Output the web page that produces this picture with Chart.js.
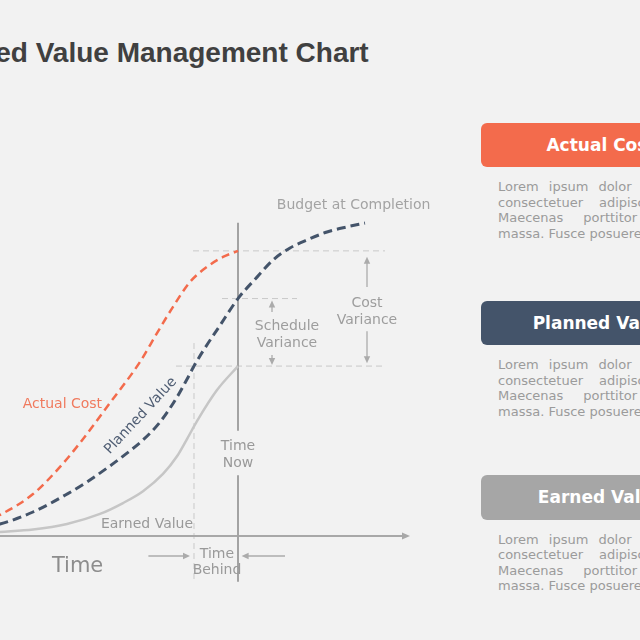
<!DOCTYPE html>
<html>
<head>
<meta charset="utf-8">
<script src="https://cdn.jsdelivr.net/npm/chart.js@4.4.1/dist/chart.umd.min.js"></script>
<style>
  html, body { margin: 0; padding: 0; width: 640px; height: 640px; overflow: hidden; background: #f2f2f2; }
  #slide { position: relative; width: 640px; height: 640px; overflow: hidden; font-family: "DejaVu Sans", Verdana, sans-serif; }
  h1 { position: absolute; left: -67px; top: 39px; margin: 0; font: bold 28px/28px "Liberation Sans", Arial, sans-serif; color: #404040; white-space: nowrap; }
  #chart-wrap { position: absolute; left: -42px; top: 180px; width: 480px; height: 420px; }
  .lbl { position: absolute; transform: translate(-50%, -50%); font-size: 14px; line-height: 16.5px; color: #999; text-align: center; white-space: nowrap; }
  .card { position: absolute; left: 481px; width: 240px; }
  .card-head { height: 44.5px; line-height: 44.5px; border-radius: 6px; color: #fff; font-weight: bold; font-size: 17px; text-align: center; white-space: nowrap; }
  .card-body { margin: 12px 16px 0 17px; font-size: 13px; line-height: 15.6px; color: #9b9b9b; text-align: justify; }
</style>
</head>
<body>
<div id="slide">
  <h1>Earned Value Management Chart</h1>

  <div id="chart-wrap">
    <canvas id="evmChart" width="480" height="420"></canvas>
  </div>

  <div class="card" style="top:122.7px">
    <div class="card-head" style="background:#f36b4c">Actual Cost</div>
    <div class="card-body">Lorem ipsum dolor sit amet, consectetuer adipiscing elit. Maecenas porttitor congue massa. Fusce posuere, magna.</div>
  </div>
  <div class="card" style="top:300.7px">
    <div class="card-head" style="background:#44546a">Planned Value</div>
    <div class="card-body">Lorem ipsum dolor sit amet, consectetuer adipiscing elit. Maecenas porttitor congue massa. Fusce posuere, magna.</div>
  </div>
  <div class="card" style="top:475px">
    <div class="card-head" style="background:#a6a6a6">Earned Value</div>
    <div class="card-body">Lorem ipsum dolor sit amet, consectetuer adipiscing elit. Maecenas porttitor congue massa. Fusce posuere, magna.</div>
  </div>
</div>

<script>
// curves (time units, value in % of budget)
const acTimes = [0, 1.05, 1.875, 2.55, 3.05, 3.8, 4.55, 4.975, 5.375, 5.8, 6.225, 6.625, 7];
const acValues = [0.9, 6.6, 13.1, 21.6, 29.1, 41.6, 54.4, 63.4, 71.6, 79.4, 84.1, 87.2, 89.1];

const pvTimes = [0, 1.05, 1.875, 2.725, 3.225, 3.8, 4.225, 4.625, 5.05, 5.475, 5.725, 5.9, 6.125, 6.55, 7, 7.475, 7.875, 8.3, 8.725, 9.225, 9.725, 10.175];
const pvValues = [1.6, 3.75, 7.5, 13.1, 16.9, 21.9, 25.9, 30.0, 35.6, 43.4, 49.0, 53.1, 57.8, 65.8, 74.2, 80.9, 86.25, 90.0, 92.5, 95.0, 96.6, 97.8];

const evTimes = [0, 1.05, 1.875, 2.725, 3.55, 4.125, 4.625, 5.125, 5.475, 5.725, 5.975, 6.475, 7];
const evValues = [0.3, 1.25, 2.0, 3.75, 6.9, 10.3, 14.0, 19.4, 24.9, 30.3, 35.9, 45.6, 53.1];

const timeNow = 7;
const timeBehind = 5.9;

const acNow = acValues[acValues.length - 1];
const evNow = evValues[evValues.length - 1];
const pvNow = pvValues[pvTimes.indexOf(timeNow)];

// text placed in chart units
const chartLabels = [
  { text: 'Budget at Completion', t: 9.89, v: 103.75, color: '#a3a3a3' },
  { text: 'Actual Cost', t: 2.61, v: 41.6, color: '#f07a5e' },
  { text: 'Planned Value', t: 4.55, v: 37.8, color: '#4f5d73', rotate: -47 },
  { text: 'Earned Value', t: 4.725, v: 4.06, color: '#999' },
  { text: 'Time<br>Now', t: timeNow, v: 25.8, color: '#999' },
  { text: 'Schedule<br>Variance', t: 8.225, v: 63.4, color: '#9d9d9d' },
  { text: 'Cost<br>Variance', t: 10.225, v: 70.6, color: '#9d9d9d' },
  { text: 'Time<br>Behind', t: 6.475, v: -7.66, color: '#999' },
  { text: 'Time', t: 2.99, v: -9.06, color: '#8d8d8d', size: 21 }
];

const toPoints = (times, values) => times.map((t, i) => ({ x: t, y: values[i] }));

const arrow = (ctx, x1, y1, x2, y2) => {
  const ang = Math.atan2(y2 - y1, x2 - x1);
  const len = 7;
  const half = 3.2;
  ctx.beginPath();
  ctx.moveTo(x1, y1);
  ctx.lineTo(x2 - Math.cos(ang) * len * 0.6, y2 - Math.sin(ang) * len * 0.6);
  ctx.stroke();
  ctx.beginPath();
  ctx.moveTo(x2, y2);
  ctx.lineTo(x2 - Math.cos(ang) * len - Math.sin(ang) * half, y2 - Math.sin(ang) * len + Math.cos(ang) * half);
  ctx.lineTo(x2 - Math.cos(ang) * len + Math.sin(ang) * half, y2 - Math.sin(ang) * len - Math.cos(ang) * half);
  ctx.closePath();
  ctx.fill();
};

const guides = {
  id: 'guides',
  beforeDatasetsDraw(chart) {
    const { ctx, scales: { x, y } } = chart;
    const px = (t) => x.getPixelForValue(t);
    const py = (v) => y.getPixelForValue(v);
    ctx.save();

    // dashed level lines
    ctx.strokeStyle = '#c9c9c9';
    ctx.lineWidth = 1;
    ctx.setLineDash([6, 4]);
    [[5.875, 10.675, acNow], [6.6, 8.475, pvNow], [5.45, 10.675, evNow]].forEach(([a, b, v]) => {
      ctx.beginPath();
      ctx.moveTo(px(a), py(v));
      ctx.lineTo(px(b), py(v));
      ctx.stroke();
    });
    ctx.beginPath();
    ctx.moveTo(px(timeBehind), py(60.3));
    ctx.lineTo(px(timeBehind), py(-14.3));
    ctx.stroke();
    ctx.setLineDash([]);

    // time axis
    ctx.strokeStyle = '#a8a8a8';
    ctx.fillStyle = '#a8a8a8';
    ctx.lineWidth = 2;
    ctx.beginPath();
    ctx.moveTo(px(0), py(0));
    ctx.lineTo(px(11.1), py(0));
    ctx.stroke();
    ctx.beginPath();
    ctx.moveTo(px(11.3), py(0));
    ctx.lineTo(px(11.1), py(0) - 3.5);
    ctx.lineTo(px(11.1), py(0) + 3.5);
    ctx.closePath();
    ctx.fill();

    // time now line with gap for its label
    ctx.strokeStyle = '#a3a3a3';
    ctx.beginPath();
    ctx.moveTo(px(timeNow), py(97.9));
    ctx.lineTo(px(timeNow), py(32.9));
    ctx.moveTo(px(timeNow), py(19));
    ctx.lineTo(px(timeNow), py(-14.3));
    ctx.stroke();

    // variance arrows
    ctx.strokeStyle = '#ababab';
    ctx.fillStyle = '#ababab';
    ctx.lineWidth = 1.3;
    arrow(ctx, px(7.85), py(70), px(7.85), py(pvNow - 0.6));
    arrow(ctx, px(7.85), py(56.6), px(7.85), py(evNow + 0.3));
    arrow(ctx, px(10.225), py(77.8), px(10.225), py(acNow - 1.8));
    arrow(ctx, px(10.225), py(64), px(10.225), py(evNow + 0.9));
    arrow(ctx, px(4.76), py(-6.25), px(5.8), py(-6.25));
    arrow(ctx, px(8.175), py(-6.25), px(7.09), py(-6.25));

    ctx.restore();
  },
  afterDraw(chart) {
    const { scales: { x, y } } = chart;
    const wrap = chart.canvas.parentNode;
    wrap.querySelectorAll('.lbl').forEach((el) => el.remove());
    chartLabels.forEach((item) => {
      const el = document.createElement('div');
      el.className = 'lbl';
      el.innerHTML = item.text;
      el.style.left = x.getPixelForValue(item.t) + 'px';
      el.style.top = y.getPixelForValue(item.v) + 'px';
      el.style.color = item.color;
      if (item.size) el.style.fontSize = item.size + 'px';
      if (item.rotate) el.style.transform = `translate(-50%, -50%) rotate(${item.rotate}deg)`;
      wrap.appendChild(el);
    });
  }
};

new Chart(document.querySelector('#evmChart'), {
  type: 'line',
  data: {
    datasets: [
      { label: 'Earned Value', data: toPoints(evTimes, evValues), borderColor: '#c6c6c6', borderWidth: 2.5 },
      { label: 'Planned Value', data: toPoints(pvTimes, pvValues), borderColor: '#44546a', borderWidth: 3, borderDash: [9, 5] },
      { label: 'Actual Cost', data: toPoints(acTimes, acValues), borderColor: '#f36b4c', borderWidth: 2.5, borderDash: [8, 5] }
    ]
  },
  options: {
    responsive: false,
    animation: false,
    layout: { padding: 0 },
    elements: {
      point: { radius: 0 },
      line: { cubicInterpolationMode: 'monotone', fill: false }
    },
    scales: {
      x: { type: 'linear', min: 0, max: 12, display: false },
      y: { min: -20, max: 111.25, display: false }
    },
    plugins: {
      legend: { display: false },
      tooltip: { enabled: false }
    }
  },
  plugins: [guides]
});
</script>
</body>
</html>
